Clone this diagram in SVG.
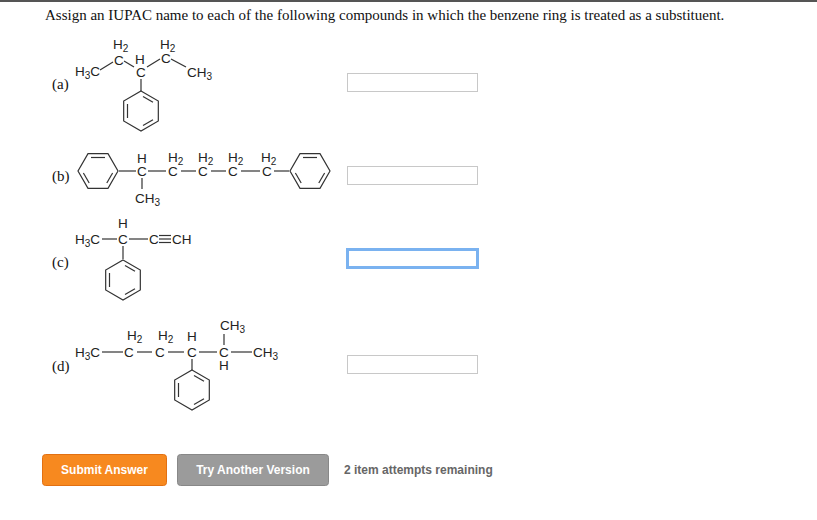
<svg xmlns="http://www.w3.org/2000/svg" width="817" height="520" viewBox="0 0 817 520">
<style>
.t{font-family:"Liberation Serif",serif;font-size:15px;fill:#111}
.a{font-family:"Liberation Sans",Arial,sans-serif;font-size:13.5px;fill:#222}
.s{font-size:10px}
.b{stroke:#333;stroke-width:1.2;fill:none}
.box{fill:#fff;stroke:#c8c8c8;stroke-width:1}
.btn{font-family:"Liberation Sans",Arial,sans-serif;font-size:12px;font-weight:bold;fill:#fff;text-anchor:middle}
</style>
<defs>
<g id="ring" class="b">
<polygon points="0,-20 17.32,-10 17.32,10 0,20 -17.32,10 -17.32,-10"/>
<line x1="-13.5" y1="-7" x2="-13.5" y2="7"/>
<line x1="2" y1="-14.6" x2="12" y2="-8.8"/>
<line x1="2" y1="14.6" x2="12" y2="8.8"/>
</g>
</defs>
<rect width="817" height="520" fill="#fff"/>
<line x1="0" y1="1" x2="817" y2="1" stroke="#555" stroke-width="2"/>
<text class="t" x="45" y="20">Assign an IUPAC name to each of the following compounds in which the benzene ring is treated as a substituent.</text>
<text class="t" x="52" y="89">(a)</text>
<text class="t" x="52" y="181">(b)</text>
<text class="t" x="52" y="267">(c)</text>
<text class="t" x="52" y="371">(d)</text>
<g id="mol-a">
<text class="a" x="113" y="49">H<tspan class="s" dy="3">2</tspan></text>
<text class="a" x="160" y="49">H<tspan class="s" dy="3">2</tspan></text>
<text class="a" x="114" y="65">C</text>
<text class="a" x="135" y="64">H</text>
<text class="a" x="136" y="77">C</text>
<text class="a" x="161" y="63">C</text>
<text class="a" x="75" y="76">H<tspan class="s" dy="3">3</tspan><tspan dy="-3">C</tspan></text>
<text class="a" x="187" y="77">CH<tspan class="s" dy="3">3</tspan></text>
<g class="b"><line x1="100" y1="70" x2="113" y2="62"/><line x1="124" y1="61" x2="134" y2="67"/><line x1="147" y1="67" x2="160" y2="59"/><line x1="171" y1="59" x2="186" y2="67"/><line x1="141" y1="79" x2="141" y2="91"/></g>
<use href="#ring" x="141" y="111"/>
</g>
<g id="mol-b">
<use href="#ring" transform="translate(98,171) rotate(90)"/>
<use href="#ring" transform="translate(310,171) rotate(90)"/>
<text class="a" x="137" y="163">H</text>
<text class="a" x="137" y="176">C</text>
<text class="a" x="135" y="203">CH<tspan class="s" dy="3">3</tspan></text>
<text class="a" x="168" y="162">H<tspan class="s" dy="3">2</tspan></text>
<text class="a" x="198" y="162">H<tspan class="s" dy="3">2</tspan></text>
<text class="a" x="228" y="162">H<tspan class="s" dy="3">2</tspan></text>
<text class="a" x="261" y="162">H<tspan class="s" dy="3">2</tspan></text>
<text class="a" x="168" y="176">C</text>
<text class="a" x="198" y="176">C</text>
<text class="a" x="228" y="176">C</text>
<text class="a" x="262" y="176">C</text>
<g class="b"><line x1="119" y1="171" x2="136" y2="171"/><line x1="148" y1="171" x2="166" y2="171"/><line x1="181" y1="171" x2="196" y2="171"/><line x1="211" y1="171" x2="226" y2="171"/><line x1="241" y1="171" x2="260" y2="171"/><line x1="274" y1="171" x2="289" y2="171"/><line x1="142" y1="178" x2="142" y2="189"/></g>
</g>
<g id="mol-c">
<text class="a" x="75" y="244">H<tspan class="s" dy="3">3</tspan><tspan dy="-3">C</tspan></text>
<text class="a" x="118" y="228">H</text>
<text class="a" x="118" y="244">C</text>
<text class="a" x="149" y="244">C</text>
<text class="a" x="172" y="244">CH</text>
<g class="b"><line x1="102" y1="239" x2="117" y2="239"/><line x1="129" y1="239" x2="148" y2="239"/><line x1="159" y1="235.5" x2="171" y2="235.5"/><line x1="159" y1="239" x2="171" y2="239"/><line x1="159" y1="242.5" x2="171" y2="242.5"/><line x1="123" y1="246" x2="123" y2="259"/></g>
<use href="#ring" x="123" y="280"/>
</g>
<g id="mol-d">
<text class="a" x="75" y="357">H<tspan class="s" dy="3">3</tspan><tspan dy="-3">C</tspan></text>
<text class="a" x="127" y="340">H<tspan class="s" dy="3">2</tspan></text>
<text class="a" x="158" y="340">H<tspan class="s" dy="3">2</tspan></text>
<text class="a" x="187" y="341">H</text>
<text class="a" x="220" y="330">CH<tspan class="s" dy="3">3</tspan></text>
<text class="a" x="124" y="357">C</text>
<text class="a" x="155" y="357">C</text>
<text class="a" x="187" y="357">C</text>
<text class="a" x="219" y="357">C</text>
<text class="a" x="219" y="370">H</text>
<text class="a" x="253" y="357">CH<tspan class="s" dy="3">3</tspan></text>
<g class="b"><line x1="102" y1="352" x2="123" y2="352"/><line x1="137" y1="352" x2="152" y2="352"/><line x1="168" y1="352" x2="184" y2="352"/><line x1="199" y1="352" x2="217" y2="352"/><line x1="231" y1="352" x2="252" y2="352"/><line x1="224" y1="334" x2="224" y2="345"/><line x1="192" y1="359" x2="192" y2="370"/></g>
<use href="#ring" x="192" y="390"/>
</g>
<g id="inputs">
<rect class="box" x="347.5" y="73.5" width="130" height="18"/>
<rect class="box" x="347.5" y="166.5" width="130" height="18"/>
<rect x="347.5" y="249.5" width="130" height="18" fill="#fff" stroke="#7ab2f0" stroke-width="3"/>
<rect class="box" x="347.5" y="355.5" width="130" height="18"/>
</g>
<g id="btn-submit"><rect x="42.5" y="454.5" width="124" height="31" rx="3" fill="#f7891f" stroke="#e27012"/><text class="btn" x="104.5" y="474">Submit Answer</text></g>
<g id="btn-try"><rect x="177.5" y="454.5" width="151" height="31" rx="3" fill="#9b9b9b" stroke="#888"/><text class="btn" x="253" y="474">Try Another Version</text></g>
<text x="344" y="474" font-family="Liberation Sans,Arial,sans-serif" font-size="12" font-weight="bold" fill="#666">2 item attempts remaining</text>
</svg>
